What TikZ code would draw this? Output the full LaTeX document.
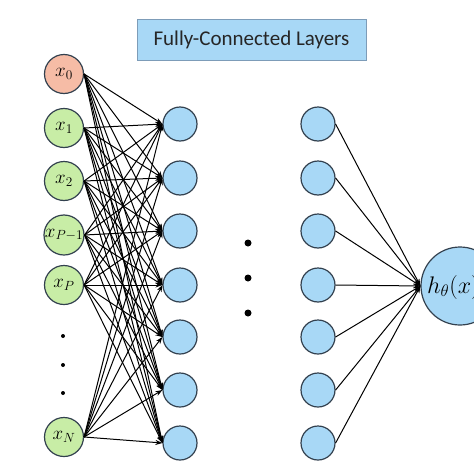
\RequirePackage{fix-cm}
\documentclass[tikz,border=0pt]{standalone}
\usepackage{fontspec}
\setmainfont{Carlito}
\usetikzlibrary{arrows.meta}
\definecolor{inred}{HTML}{F6BCA6}
\definecolor{ingreen}{HTML}{C8EDA6}
\definecolor{hidblue}{HTML}{A8D8F6}
\definecolor{edgec}{HTML}{33414F}
\definecolor{titleborder}{HTML}{7D9CB8}
\tikzset{
  neuron/.style={circle, draw=edgec, line width=1.2pt, inner sep=0pt, minimum size=#1},
  inp/.style={neuron=39pt, fill=ingreen, font=\fontsize{19}{22}\selectfont},
  hid/.style={neuron=34pt, fill=hidblue},
  conn/.style={line width=1pt, -{Stealth[length=7pt,width=5pt]}},
  bigdot/.style={circle, fill=black, inner sep=0pt, minimum size=7pt},
  smalldot/.style={circle, fill=black, inner sep=0pt, minimum size=4pt},
}
\begin{document}
\begin{tikzpicture}[x=1pt,y=-1pt]
\useasboundingbox (0,0) rectangle (474,474);
\clip (0,0) rectangle (474,474);
\fill[white] (0,0) rectangle (474,474);
% title
\node[draw=titleborder, line width=1pt, fill=hidblue, minimum width=229pt, minimum height=41pt, inner sep=0pt, font=\fontsize{21}{25}\selectfont, text=black!85] (title) at (251.5,39.5) {Fully-Connected Layers};
% inputs
\node[inp, fill=inred] (i0) at (64,74) {$x_0$};
\node[inp] (i1) at (64,128) {$x_1$};
\node[inp] (i2) at (64,181) {$x_2$};
\node[inp] (i3) at (64,235) {$x_{P-1}$};
\node[inp] (i4) at (64,285) {$x_P$};
\node[inp] (i5) at (64,437) {$x_N$};
\node[smalldot] (d1) at (63,336) {};
\node[smalldot] (d2) at (63,365) {};
\node[smalldot] (d3) at (63,393) {};
% hidden layers
\foreach \j/\y in {1/124,2/178,3/231,4/285,5/337,6/390,7/443}{
  \node[hid] (a\j) at (180,\y) {};
  \node[hid] (b\j) at (318,\y) {};
}
\node[bigdot] (m1) at (248,243) {};
\node[bigdot] (m2) at (248,278) {};
\node[bigdot] (m3) at (248,313) {};
% output
\node[neuron=78pt, fill=hidblue] (out) at (460,286) {};
\node[anchor=west, inner sep=0pt, font=\fontsize{24}{28}\selectfont] (outlabel) at (427,287) {$h_\theta(x)$};
% connections
\foreach \i in {0,...,5}{
  \foreach \j in {1,...,7}{
    \draw[conn] (i\i.east) -- (a\j.west);
  }
}
\foreach \j in {1,...,7}{
  \draw[conn] (b\j.east) -- (out.west);
}
\end{tikzpicture}
\end{document}
